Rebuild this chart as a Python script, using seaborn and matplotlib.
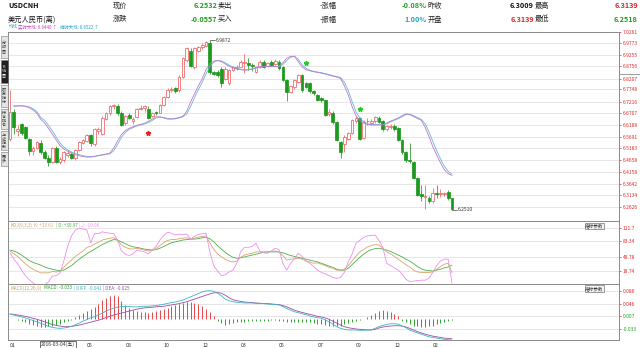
import numpy as np
import matplotlib
matplotlib.use("Agg")
import matplotlib.pyplot as plt
from matplotlib.patches import Rectangle
from matplotlib.lines import Line2D
import seaborn as sns

# ---- données (bougies hebdo USDCNH) ----
opens = [6.560, 6.675, 6.595, 6.623, 6.610, 6.560, 6.505, 6.520, 6.540, 6.500,
         6.475, 6.460, 6.520, 6.458, 6.465, 6.490, 6.495, 6.475, 6.510, 6.543,
         6.550, 6.575, 6.538, 6.595, 6.580, 6.645, 6.672, 6.700, 6.700, 6.672,
         6.630, 6.663, 6.635, 6.655, 6.690, 6.692, 6.690, 6.660, 6.675, 6.672,
         6.705, 6.740, 6.772, 6.780, 6.770, 6.830, 6.900, 6.940, 6.870, 6.940,
         6.960, 6.963, 6.975, 6.850, 6.852, 6.865, 6.820, 6.800, 6.860, 6.868,
         6.873, 6.888, 6.890, 6.880, 6.850, 6.872, 6.895, 6.878, 6.893, 6.885,
         6.895, 6.872, 6.815, 6.765, 6.783, 6.805, 6.835, 6.800, 6.800, 6.766,
         6.752, 6.735, 6.728, 6.668, 6.673, 6.632, 6.547, 6.535, 6.560, 6.585,
         6.638, 6.648, 6.565, 6.635, 6.630, 6.635, 6.652, 6.635, 6.600, 6.610,
         6.617, 6.605, 6.555, 6.500, 6.468, 6.460, 6.390, 6.318, 6.305, 6.302,
         6.288, 6.322, 6.318, 6.320, 6.329, 6.300]
highs = [6.770, 6.690, 6.620, 6.630, 6.615, 6.565, 6.530, 6.550, 6.555, 6.510,
         6.490, 6.525, 6.530, 6.480, 6.505, 6.510, 6.500, 6.515, 6.550, 6.560,
         6.580, 6.580, 6.605, 6.610, 6.660, 6.675, 6.705, 6.710, 6.710, 6.680,
         6.665, 6.670, 6.655, 6.695, 6.705, 6.705, 6.700, 6.675, 6.680, 6.710,
         6.745, 6.780, 6.785, 6.785, 6.835, 6.915, 6.960, 6.955, 6.960, 6.965,
         6.975, 6.985, 6.9872, 6.855, 6.860, 6.870, 6.870, 6.865, 6.875, 6.880,
         6.900, 6.930, 6.910, 6.890, 6.875, 6.900, 6.900, 6.895, 6.900, 6.905,
         6.900, 6.875, 6.820, 6.790, 6.820, 6.840, 6.840, 6.805, 6.805, 6.770,
         6.755, 6.740, 6.730, 6.690, 6.680, 6.635, 6.550, 6.575, 6.590, 6.645,
         6.660, 6.655, 6.640, 6.650, 6.645, 6.660, 6.660, 6.640, 6.620, 6.625,
         6.625, 6.610, 6.560, 6.505, 6.540, 6.462, 6.392, 6.360, 6.360, 6.310,
         6.345, 6.360, 6.340, 6.330, 6.335, 6.302]
lows = [6.550, 6.580, 6.570, 6.575, 6.560, 6.490, 6.490, 6.515, 6.495, 6.470,
        6.440, 6.455, 6.455, 6.450, 6.460, 6.480, 6.470, 6.465, 6.505, 6.535,
        6.545, 6.530, 6.530, 6.580, 6.575, 6.640, 6.665, 6.690, 6.665, 6.615,
        6.620, 6.645, 6.625, 6.650, 6.685, 6.675, 6.645, 6.655, 6.665, 6.670,
        6.700, 6.735, 6.765, 6.760, 6.765, 6.825, 6.895, 6.870, 6.865, 6.935,
        6.950, 6.960, 6.840, 6.835, 6.830, 6.785, 6.815, 6.795, 6.855, 6.860,
        6.870, 6.845, 6.860, 6.855, 6.845, 6.868, 6.868, 6.870, 6.878, 6.880,
        6.860, 6.810, 6.722, 6.760, 6.775, 6.800, 6.765, 6.780, 6.760, 6.752,
        6.725, 6.720, 6.660, 6.660, 6.625, 6.550, 6.475, 6.500, 6.555, 6.580,
        6.630, 6.555, 6.560, 6.620, 6.620, 6.630, 6.628, 6.595, 6.595, 6.600,
        6.595, 6.550, 6.495, 6.460, 6.455, 6.385, 6.310, 6.290, 6.255, 6.280,
        6.280, 6.300, 6.305, 6.310, 6.295, 6.2510]
closes = [6.675, 6.610, 6.600, 6.585, 6.565, 6.505, 6.518, 6.545, 6.500, 6.478,
          6.458, 6.520, 6.460, 6.470, 6.500, 6.497, 6.478, 6.510, 6.545, 6.555,
          6.575, 6.540, 6.600, 6.600, 6.650, 6.670, 6.700, 6.705, 6.672, 6.620,
          6.660, 6.650, 6.645, 6.688, 6.695, 6.700, 6.650, 6.670, 6.670, 6.705,
          6.740, 6.772, 6.776, 6.768, 6.830, 6.910, 6.955, 6.875, 6.955, 6.960,
          6.966, 6.982, 6.850, 6.843, 6.836, 6.800, 6.865, 6.860, 6.870, 6.872,
          6.895, 6.895, 6.880, 6.877, 6.870, 6.895, 6.873, 6.888, 6.882, 6.897,
          6.867, 6.815, 6.765, 6.787, 6.815, 6.835, 6.772, 6.785, 6.766, 6.758,
          6.730, 6.730, 6.665, 6.675, 6.632, 6.555, 6.500, 6.568, 6.585, 6.640,
          6.650, 6.560, 6.634, 6.638, 6.636, 6.655, 6.633, 6.600, 6.615, 6.615,
          6.600, 6.555, 6.500, 6.465, 6.462, 6.390, 6.315, 6.312, 6.310, 6.288,
          6.325, 6.318, 6.322, 6.322, 6.300, 6.2532]

# 实时大线 / 缩时大线
line_real = [np.nan, 6.700, 6.702, 6.703, 6.700, 6.695, 6.685, 6.670, 6.644, 6.628,
             6.605, 6.580, 6.555, 6.530, 6.515, 6.505, 6.497, 6.490, 6.486, 6.482,
             6.480, 6.480, 6.482, 6.487, 6.490, 6.493, 6.497, 6.520, 6.550, 6.578,
             6.595, 6.605, 6.612, 6.618, 6.622, 6.627, 6.635, 6.645, 6.655, 6.655,
             6.650, 6.645, 6.645, 6.648, 6.652, 6.658, 6.680, 6.720, 6.755, 6.790,
             6.820, 6.860, 6.885, 6.898, 6.900, 6.895, 6.885, 6.875, 6.868, 6.862,
             6.860, 6.858, 6.860, 6.864, 6.870, 6.873, 6.874, 6.874, 6.873, 6.873,
             6.875, 6.890, 6.910, 6.918, 6.918, 6.895, 6.872, 6.860, 6.855, 6.851,
             6.848, 6.845, 6.841, 6.836, 6.832, 6.828, 6.822, 6.790, 6.750, 6.700,
             6.660, 6.640, 6.628, 6.622, 6.620, 6.620, 6.620, 6.621, 6.628, 6.636,
             6.643, 6.650, 6.660, 6.668, 6.664, 6.656, 6.648, 6.640, 6.610, 6.570,
             6.525, 6.490, 6.455, 6.425, 6.408, 6.400]
line_slow = [np.nan, 6.703, 6.703, 6.703, 6.702, 6.698, 6.690, 6.678, 6.652, 6.640,
             6.618, 6.594, 6.568, 6.542, 6.524, 6.511, 6.502, 6.495, 6.490, 6.486,
             6.483, 6.482, 6.483, 6.486, 6.489, 6.492, 6.494, 6.508, 6.535, 6.565,
             6.587, 6.600, 6.608, 6.615, 6.620, 6.624, 6.630, 6.639, 6.650, 6.654,
             6.652, 6.648, 6.646, 6.646, 6.650, 6.655, 6.668, 6.700, 6.738, 6.773,
             6.805, 6.842, 6.873, 6.892, 6.900, 6.898, 6.890, 6.880, 6.872, 6.866,
             6.862, 6.859, 6.859, 6.862, 6.867, 6.871, 6.873, 6.874, 6.874, 6.873,
             6.874, 6.882, 6.900, 6.914, 6.919, 6.905, 6.882, 6.866, 6.858, 6.853,
             6.850, 6.847, 6.843, 6.839, 6.834, 6.830, 6.826, 6.805, 6.770, 6.722,
             6.678, 6.650, 6.634, 6.625, 6.621, 6.620, 6.620, 6.620, 6.624, 6.632,
             6.640, 6.647, 6.655, 6.665, 6.667, 6.660, 6.652, 6.644, 6.625, 6.590,
             6.548, 6.508, 6.472, 6.440, 6.418, 6.405]

# KDJ(9,3,3)
k_vals = [62, 56, 50, 42, 34, 27, 22, 18, 14, 14,
          14, 17, 16, 17, 26, 35, 42, 50, 56, 62,
          70, 72, 77, 81, 86, 88, 90, 91, 86, 75,
          70, 67, 66, 68, 66, 64, 62, 64, 67, 74,
          80, 85, 87, 87, 89, 90, 91, 88, 90, 92,
          94, 95, 80, 66, 56, 49, 44, 40, 38, 40,
          48, 53, 55, 57, 60, 60, 60, 60, 61, 62,
          60, 52, 42, 44, 45, 46, 44, 40, 38, 35,
          36, 33, 30, 26, 24, 20, 20, 22, 30, 40,
          50, 60, 65, 71, 74, 76, 75, 68, 60, 56,
          50, 44, 38, 32, 27, 20, 16, 15, 15, 15,
          16, 22, 28, 33, 35, 14]
d_vals = [64, 62, 58, 53, 47, 41, 37, 34, 31, 27,
          24, 22, 20, 19, 20, 25, 30, 37, 44, 50,
          56, 61, 66, 71, 76, 80, 84, 87, 86, 82,
          78, 74, 71, 70, 68, 66, 65, 64, 65, 68,
          72, 76, 80, 82, 84, 86, 87, 88, 88, 89,
          91, 92, 89, 82, 74, 66, 59, 53, 48, 46,
          47, 49, 51, 53, 55, 57, 59, 60, 60, 60,
          60, 58, 55, 52, 50, 48, 46, 44, 42, 40,
          38, 35, 32, 29, 26, 22, 20, 20, 24, 32,
          40, 48, 55, 61, 65, 67, 68, 66, 64, 61,
          57, 53, 49, 44, 40, 34, 28, 23, 20, 19,
          18, 20, 22, 25, 27, 31]
j_vals = [58, 44, 34, 20, 8, -1, -8, -14, -20, -12,
          -6, 7, 8, 13, 40, 72, 95, 108, 112, 110,
          108, 80, 100, 100, 104, 102, 101, 100, 85, 62,
          55, 52, 56, 64, 62, 60, 56, 64, 72, 86,
          96, 103, 101, 97, 99, 98, 99, 88, 94, 98,
          100, 101, 60, 30, 18, 8, 10, 16, 20, 35,
          60, 70, 70, 72, 79, 62, 58, 57, 62, 68,
          65, 35, 20, 35, 45, 57, 50, 40, 35, 28,
          20, 15, 12, 8, 4, 2, 4, 15, 38, 55,
          79, 85, 92, 95, 96, 97, 85, 70, 35, 30,
          25, 20, 12, 0, -5, -4, -3, -2, -2, 2,
          15, 30, 40, 44, 44, -8]

# MACD(12,26,9)
diff_vals = [0.014, 0.011, 0.008, 0.005, 0.002, -0.002, -0.006, -0.010, -0.015, -0.019,
             -0.024, -0.027, -0.029, -0.030, -0.029, -0.027, -0.024, -0.019, -0.014, -0.008,
             -0.003, 0.002, 0.006, 0.011, 0.017, 0.023, 0.028, 0.032, 0.035, 0.037,
             0.037, 0.037, 0.036, 0.036, 0.037, 0.038, 0.038, 0.039, 0.040, 0.042,
             0.044, 0.047, 0.049, 0.051, 0.054, 0.057, 0.062, 0.067, 0.072, 0.077,
             0.082, 0.085, 0.086, 0.084, 0.078, 0.070, 0.060, 0.055, 0.052, 0.050,
             0.049, 0.048, 0.048, 0.048, 0.047, 0.047, 0.046, 0.045, 0.044, 0.043,
             0.042, 0.037, 0.031, 0.026, 0.021, 0.018, 0.015, 0.012, 0.008, 0.005,
             0.003, 0.001, -0.004, -0.010, -0.017, -0.025, -0.030, -0.033, -0.035, -0.035,
             -0.035, -0.036, -0.036, -0.035, -0.035, -0.030, -0.025, -0.021, -0.018, -0.016,
             -0.016, -0.017, -0.022, -0.028, -0.035, -0.040, -0.044, -0.048, -0.052, -0.056,
             -0.058, -0.060, -0.062, -0.064, -0.065, -0.066]
dea_vals = [0.014, 0.013, 0.011, 0.009, 0.007, 0.004, 0.001, -0.002, -0.006, -0.010,
            -0.0145, -0.018, -0.021, -0.023, -0.025, -0.025, -0.024, -0.022, -0.020, -0.017,
            -0.014, -0.011, -0.008, -0.005, -0.001, 0.003, 0.007, 0.011, 0.014, 0.017,
            0.020, 0.023, 0.026, 0.029, 0.031, 0.033, 0.034, 0.035, 0.036, 0.037,
            0.038, 0.040, 0.042, 0.044, 0.046, 0.049, 0.052, 0.056, 0.060, 0.064,
            0.068, 0.072, 0.076, 0.079, 0.080, 0.078, 0.072, 0.064, 0.058, 0.055,
            0.053, 0.051, 0.050, 0.049, 0.048, 0.047, 0.046, 0.046, 0.045, 0.044,
            0.043, 0.040, 0.036, 0.031, 0.026, 0.022, 0.019, 0.016, 0.013, 0.010,
            0.007, 0.005, 0.002, -0.002, -0.008, -0.014, -0.020, -0.025, -0.028, -0.030,
            -0.032, -0.033, -0.034, -0.035, -0.035, -0.033, -0.029, -0.026, -0.024, -0.023,
            -0.022, -0.022, -0.023, -0.026, -0.030, -0.035, -0.040, -0.044, -0.048, -0.051,
            -0.054, -0.056, -0.058, -0.060, -0.061, -0.062]
macd_vals = [0.0, 0.0, -0.004, -0.008, -0.012, -0.016, -0.020, -0.024, -0.026, -0.026,
             -0.024, -0.022, -0.020, -0.016, -0.012, -0.008, -0.004, 0.004, 0.010, 0.016,
             0.022, 0.028, 0.036, 0.046, 0.056, 0.064, 0.070, 0.074, 0.068, 0.054,
             0.042, 0.032, 0.026, 0.022, 0.020, 0.020, 0.018, 0.020, 0.022, 0.026,
             0.030, 0.034, 0.038, 0.042, 0.046, 0.048, 0.050, 0.050, 0.048, 0.044,
             0.038, 0.030, 0.020, 0.008, -0.006, -0.014, -0.020, -0.018, -0.014, -0.012,
             -0.010, -0.010, -0.008, -0.008, -0.006, -0.006, -0.006, -0.006, -0.005, -0.005,
             -0.006, -0.008, -0.010, -0.012, -0.012, -0.010, -0.010, -0.010, -0.012, -0.014,
             -0.016, -0.018, -0.020, -0.022, -0.024, -0.024, -0.022, -0.018, -0.014, -0.010,
             -0.008, -0.004, -0.002, 0.004, 0.010, 0.016, 0.022, 0.026, 0.024, 0.020,
             0.014, 0.008, -0.006, -0.012, -0.018, -0.022, -0.024, -0.026, -0.026, -0.024,
             -0.022, -0.018, -0.014, -0.010, -0.006, -0.004]

price_ticks = [7.0261, 6.9773, 6.9255, 6.8756, 6.8207, 6.7748, 6.7216, 6.6707,
               6.6188, 6.5691, 6.5183, 6.4658, 6.4158, 6.3642, 6.3134, 6.2626]
kdj_ticks = [111.7, 83.34, 48.78, 18.74]
macd_ticks = [0.086, 0.046, 0.007, -0.033]
xtick_pos = [0, 20, 30, 40, 50, 60, 70, 80, 90, 100, 110]
xtick_labels = ["01", "05", "08", "10", "12", "03", "05", "07", "09", "12", "02"]

# ---- couleurs ----
RED = "#ef6262"
GREEN = "#1d9a1d"
TXT_GREEN = "#18a018"
TXT_RED = "#e02424"
TXT_CYAN = "#16a6c9"
GRID = "#e2e2e2"
EDGE = "#8a8a8a"

W, H = 640, 348
sns.set_theme(style="white")
plt.rcParams['font.family'] = ['Noto Sans CJK SC', 'DejaVu Sans']

fig = plt.figure(figsize=(W / 100, H / 100), dpi=100)


def px_axes(x0, y0, x1, y1):
    return fig.add_axes([x0 / W, 1 - y1 / H, (x1 - x0) / W, (y1 - y0) / H])


def ftext(x, y, s, **kw):
    kw.setdefault("va", "center")
    return fig.text(x / W, 1 - y / H, s, **kw)


ax_p = px_axes(8, 31.5, 619, 221)
ax_k = px_axes(8, 221, 619, 284)
ax_m = px_axes(8, 284, 619, 340)

n = len(closes)
idx = np.arange(n)
o, hi, lo, c = map(np.array, (opens, highs, lows, closes))
step = 442 / 115.0
xlim = (-2 / step, (619 - 10) / step)

# ---- bougies ----
up = c >= o
dn = ~up
body = np.maximum(np.abs(c - o), 0.0012)
ax_p.vlines(idx[up], lo[up], hi[up], color=RED, lw=0.55, zorder=2)
ax_p.vlines(idx[dn], lo[dn], hi[dn], color=GREEN, lw=0.55, zorder=2)
ax_p.bar(idx[up], body[up], bottom=o[up], width=0.72, facecolor="white",
         edgecolor=RED, linewidth=0.55, zorder=3)
ax_p.bar(idx[dn], body[dn], bottom=c[dn], width=0.72, facecolor=GREEN,
         edgecolor=GREEN, linewidth=0.55, zorder=3)

sns.lineplot(x=idx, y=line_slow, ax=ax_p, color="#6cb4dc", lw=0.6, zorder=4)
sns.lineplot(x=idx, y=line_real, ax=ax_p, color="#bb7acb", lw=0.6, zorder=4)

# marqueurs
ax_p.plot([36], [6.585], marker="*", color="#e82020", ms=3.5, lw=0)
ax_p.plot([77, 91], [6.89, 6.69], marker="*", color="#22cc22", ms=3.5, lw=0)

# extrêmes
ax_p.plot([52, 53.3], [6.9872, 6.9872], color="#444444", lw=0.5)
ax_p.text(53.5, 6.9872, "6.9872", fontsize=3.6, color="#333333", va="center")
ax_p.plot([115, 116.3], [6.2510, 6.2510], color="#444444", lw=0.5)
ax_p.text(116.5, 6.2510, "6.2510", fontsize=3.6, color="#333333", va="center")

ax_p.set_ylim(6.2018, 7.0261)
ax_p.set_yticks(price_ticks)
ax_p.set_yticklabels([f"{t:.4f}" for t in price_ticks])

# ---- KDJ ----
sns.lineplot(x=idx, y=d_vals, ax=ax_k, color="#4cae4c", lw=0.6)
sns.lineplot(x=idx, y=k_vals, ax=ax_k, color="#d9a46a", lw=0.6)
sns.lineplot(x=idx, y=j_vals, ax=ax_k, color="#ee8cee", lw=0.6)
ax_k.set_ylim(-10.4, 127.7)
ax_k.set_yticks(kdj_ticks)
ax_k.set_yticklabels(["111.7", "83.34", "48.78", "18.74"])

# ---- MACD ----
mv = np.array(macd_vals)
pos = mv > 0
ax_m.vlines(idx[pos], 0, mv[pos], color="#e8474c", lw=0.7)
ax_m.vlines(idx[~pos], 0, mv[~pos], color="#2aa52a", lw=0.7)
sns.lineplot(x=idx, y=dea_vals, ax=ax_m, color="#a04aa8", lw=0.6)
sns.lineplot(x=idx, y=diff_vals, ax=ax_m, color="#39b6c2", lw=0.6)
ax_m.set_ylim(-0.0659, 0.1064)
ax_m.set_yticks(macd_ticks)
ax_m.set_yticklabels(["0.086", "0.046", "0.007", "-0.033"])

for ax in (ax_p, ax_k, ax_m):
    ax.set_xlim(*xlim)
    ax.set_xlabel("")
    ax.set_ylabel("")
    ax.grid(axis="y", color=GRID, lw=0.6)
    ax.grid(axis="x", visible=False)
    ax.yaxis.tick_right()
    ax.tick_params(axis="y", labelsize=3.5, length=1.5, width=0.5, pad=1,
                   colors=TXT_RED)
    for s in ax.spines.values():
        s.set_color(EDGE)
        s.set_linewidth(0.7)
    if ax is not ax_m:
        ax.set_xticks([])

for lab, v in zip(ax_m.get_yticklabels(), macd_ticks):
    lab.set_color(TXT_RED if v > 0.02 else TXT_GREEN)

ax_m.set_xticks(xtick_pos)
ax_m.set_xticklabels(xtick_labels, fontsize=3.8, color="#333333", ha="left")
ax_m.tick_params(axis="x", length=0, pad=2)
ax_m.text(8, -0.075, "2016-03-04(五)", transform=ax_m.get_xaxis_transform(),
          fontsize=3.6, color="#333333", ha="left", va="center",
          bbox=dict(boxstyle="square,pad=0.15", fc="white", ec="#333333", lw=0.5))

# légendes des indicateurs (segments placés les uns après les autres)
renderer = fig.canvas.get_renderer()


def seg_text(ax, x0, y, parts):
    xp = ax.transAxes.transform((x0, y))[0]
    yp = ax.transAxes.transform((x0, y))[1]
    for s, col in parts:
        tx = fig.text(xp / W, yp / H, s, fontsize=3.3, color=col, va="center")
        xp = tx.get_window_extent(renderer).x1 + 2


seg_text(ax_k, 0.004, 0.93, [("KDJ(9,3,3)", "#c8a060"), ("K: +13.61", "#d9a46a"),
                             ("| D: +30.97", "#4cae4c"), ("| J: -19.06", "#ee8cee")])
seg_text(ax_m, 0.004, 0.93, [("MACD(12,26,9)", "#c8a060"), ("MACD: -0.033", "#2aa52a"),
                             ("| DIFF: -0.041", "#39b6c2"), ("| DEA: -0.025", "#a04aa8")])
for ax in (ax_k, ax_m):
    ax.text(0.975, 0.92, "指标参数", transform=ax.transAxes, fontsize=3.3,
            color="#333333", ha="right", va="center",
            bbox=dict(boxstyle="square,pad=0.15", fc="#f4f4f4", ec="#555555", lw=0.4))

# séparateur dans la colonne des prix
fig.add_artist(Line2D([619 / W, 1.0], [1 - 73.5 / H, 1 - 73.5 / H],
                      color=EDGE, lw=0.6, transform=fig.transFigure))

# ---- en-tête ----
ftext(8, 6, "USDCNH", fontsize=5.2, color="#111111", weight="bold")
ftext(113, 6, "现价", fontsize=5.2, color="#222222")
ftext(217, 6, "6.2532", fontsize=5.2, color=TXT_GREEN, ha="right", weight="bold")
ftext(218, 6, "卖出", fontsize=5.2, color="#222222")
ftext(320, 6, "-涨幅", fontsize=5.2, color="#222222")
ftext(427, 6, "-0.08%", fontsize=5.2, color=TXT_GREEN, ha="right", weight="bold")
ftext(428, 6, "昨收", fontsize=5.2, color="#222222")
ftext(534, 6, "6.3009", fontsize=5.2, color="#111111", ha="right", weight="bold")
ftext(535, 6, "最高", fontsize=5.2, color="#222222")
ftext(638, 6, "6.3139", fontsize=5.2, color=TXT_RED, ha="right", weight="bold")

ftext(8, 19.5, "美元人民币(离)", fontsize=5.2, color="#111111")
ftext(113, 19.5, "涨跌", fontsize=5.2, color="#222222")
ftext(217, 19.5, "-0.0557", fontsize=5.2, color=TXT_GREEN, ha="right", weight="bold")
ftext(218, 19.5, "买入", fontsize=5.2, color="#222222")
ftext(320, 19.5, "-振幅", fontsize=5.2, color="#222222")
ftext(427, 19.5, "1.00%", fontsize=5.2, color=TXT_CYAN, ha="right", weight="bold")
ftext(428, 19.5, "开盘", fontsize=5.2, color="#222222")
ftext(534, 19.5, "6.3139", fontsize=5.2, color=TXT_RED, ha="right", weight="bold")
ftext(535, 19.5, "最低", fontsize=5.2, color="#222222")
ftext(638, 19.5, "6.2518", fontsize=5.2, color=TXT_GREEN, ha="right", weight="bold")

t = ftext(9, 27, "均线", fontsize=3.2, color=TXT_CYAN)
t = ftext(18, 27, "实时大线: 6.6440 ↑", fontsize=3.2, color="#c040c0")
ftext(t.get_window_extent(renderer).x1 + 3, 27, "缩时大线: 6.6522 ↑", fontsize=3.2, color=TXT_CYAN)

# ---- onglets verticaux à gauche ----
tabs = [("分时图", 36, 58, False), ("K线图", 60, 83, True), ("财务指标", 85, 107, False),
        ("持仓排名", 109, 129, False), ("上证指数", 131, 150, False), ("更多", 152, 166, False)]
for label, y0, y1, active in tabs:
    fig.patches.append(Rectangle((0.5 / W, 1 - y1 / H), 7 / W, (y1 - y0) / H,
                                 transform=fig.transFigure,
                                 fc="#222222" if active else "#e4e4e4",
                                 ec="#777777", lw=0.4))
    ftext(4, (y0 + y1) / 2, "\n".join(list(label)), fontsize=2.9,
          color="white" if active else "#333333", ha="center", linespacing=1.0)

fig.savefig("out.png", dpi=100, facecolor="white")
